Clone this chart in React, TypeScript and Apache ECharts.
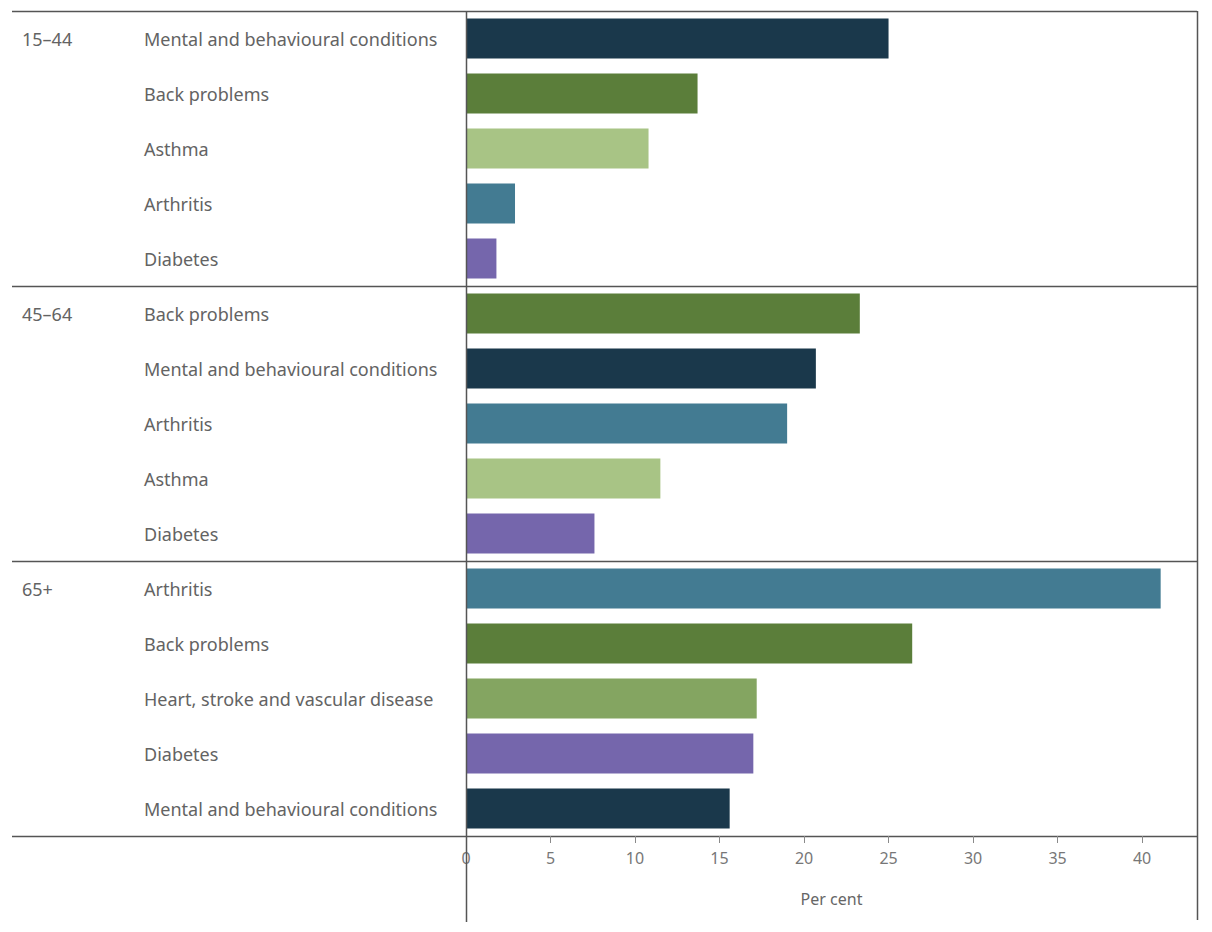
import React, { useEffect, useRef } from "react";
import * as echarts from "echarts";

// Age groups and the five most common conditions within each (per cent)
const ageGroups = ["15–44", "45–64", "65+"];

const conditions1544 = [
  "Mental and behavioural conditions",
  "Back problems",
  "Asthma",
  "Arthritis",
  "Diabetes",
];
const values1544 = [25.0, 13.7, 10.8, 2.9, 1.8];

const conditions4564 = [
  "Back problems",
  "Mental and behavioural conditions",
  "Arthritis",
  "Asthma",
  "Diabetes",
];
const values4564 = [23.3, 20.7, 19.0, 11.5, 7.6];

const conditions65 = [
  "Arthritis",
  "Back problems",
  "Heart, stroke and vascular disease",
  "Diabetes",
  "Mental and behavioural conditions",
];
const values65 = [41.1, 26.4, 17.2, 17.0, 15.6];

const xTicks = [0, 5, 10, 15, 20, 25, 30, 35, 40];

const conditionColors: Record<string, string> = {
  "Mental and behavioural conditions": "#1a384b",
  "Back problems": "#5b7e3a",
  Asthma: "#a8c485",
  Arthritis: "#437b92",
  Diabetes: "#7566ac",
  "Heart, stroke and vascular disease": "#84a561",
};

const groupConditions = [conditions1544, conditions4564, conditions65];
const groupValues = [values1544, values4564, values65];

export default function App() {
  const ref = useRef<HTMLDivElement>(null);

  useEffect(() => {
    if (!ref.current) return;
    const chart = echarts.init(ref.current, null, { renderer: "svg" });

    const rowKeys: string[] = [];
    const rowData: any[] = [];
    groupConditions.forEach((conds, g) => {
      conds.forEach((c, i) => {
        rowKeys.push(`${ageGroups[g]}|${c}`);
        rowData.push({
          value: groupValues[g][i],
          itemStyle: { color: conditionColors[c] },
        });
      });
    });

    const font = "'Noto Sans', sans-serif";
    const frame = "#555555";
    const labelColor = "#636363";

    const gridLeft = 466;
    const gridTop = 11;
    const gridRight = 1197;
    const gridBottom = 836;
    const groupHeight = (gridBottom - gridTop) / ageGroups.length;

    const rules: any[] = [];
    for (let g = 0; g <= ageGroups.length; g++) {
      const y = Math.round(gridTop + g * groupHeight) + 0.5;
      rules.push({
        type: "line",
        shape: { x1: 12, y1: y, x2: gridRight, y2: y },
        style: { stroke: frame, lineWidth: 1.5 },
        silent: true,
      });
    }
    rules.push({
      type: "line",
      shape: { x1: gridLeft + 0.5, y1: gridTop, x2: gridLeft + 0.5, y2: 922 },
      style: { stroke: frame, lineWidth: 1.5 },
      silent: true,
      z: 10,
    });
    rules.push({
      type: "line",
      shape: { x1: gridRight + 0.5, y1: gridTop, x2: gridRight + 0.5, y2: 920 },
      style: { stroke: frame, lineWidth: 1.5 },
      silent: true,
    });

    chart.setOption({
      animation: false,
      backgroundColor: "#ffffff",
      textStyle: { fontFamily: font },
      grid: {
        left: gridLeft,
        top: gridTop,
        width: gridRight - gridLeft,
        height: gridBottom - gridTop,
        containLabel: false,
      },
      xAxis: {
        type: "value",
        min: 0,
        max: 43.25,
        interval: 5,
        axisLine: { show: false },
        axisTick: {
          show: true,
          length: 7,
          lineStyle: { color: "#8a8a8a" },
        },
        splitLine: { show: false },
        axisLabel: {
          fontFamily: font,
          fontSize: 16,
          color: "#777777",
          margin: 14,
          showMaxLabel: false,
          formatter: (v: number) => (xTicks.includes(v) ? String(v) : ""),
        },
        name: "Per cent",
        nameLocation: "middle",
        nameGap: 55,
        nameTextStyle: { fontFamily: font, fontSize: 16, color: "#666666" },
      },
      yAxis: {
        type: "category",
        inverse: true,
        data: rowKeys,
        axisLine: { show: false },
        axisTick: { show: false },
        splitLine: { show: false },
        axisLabel: {
          align: "left",
          margin: gridLeft - 22,
          interval: 0,
          formatter: (value: string, index: number) => {
            const [age, cond] = value.split("|");
            const ageText = index % 5 === 0 ? age : "";
            return `{age|${ageText}}{cond|${cond}}`;
          },
          rich: {
            age: {
              width: 122,
              fontFamily: font,
              fontSize: 18,
              color: labelColor,
            },
            cond: {
              fontFamily: font,
              fontSize: 18,
              color: labelColor,
            },
          },
        },
      },
      series: [
        {
          type: "bar",
          data: rowData,
          barWidth: 40,
          silent: true,
        },
      ],
      graphic: rules,
    });

    return () => chart.dispose();
  }, []);

  return <div ref={ref} style={{ width: 1212, height: 932, margin: -8 }} />;
}
